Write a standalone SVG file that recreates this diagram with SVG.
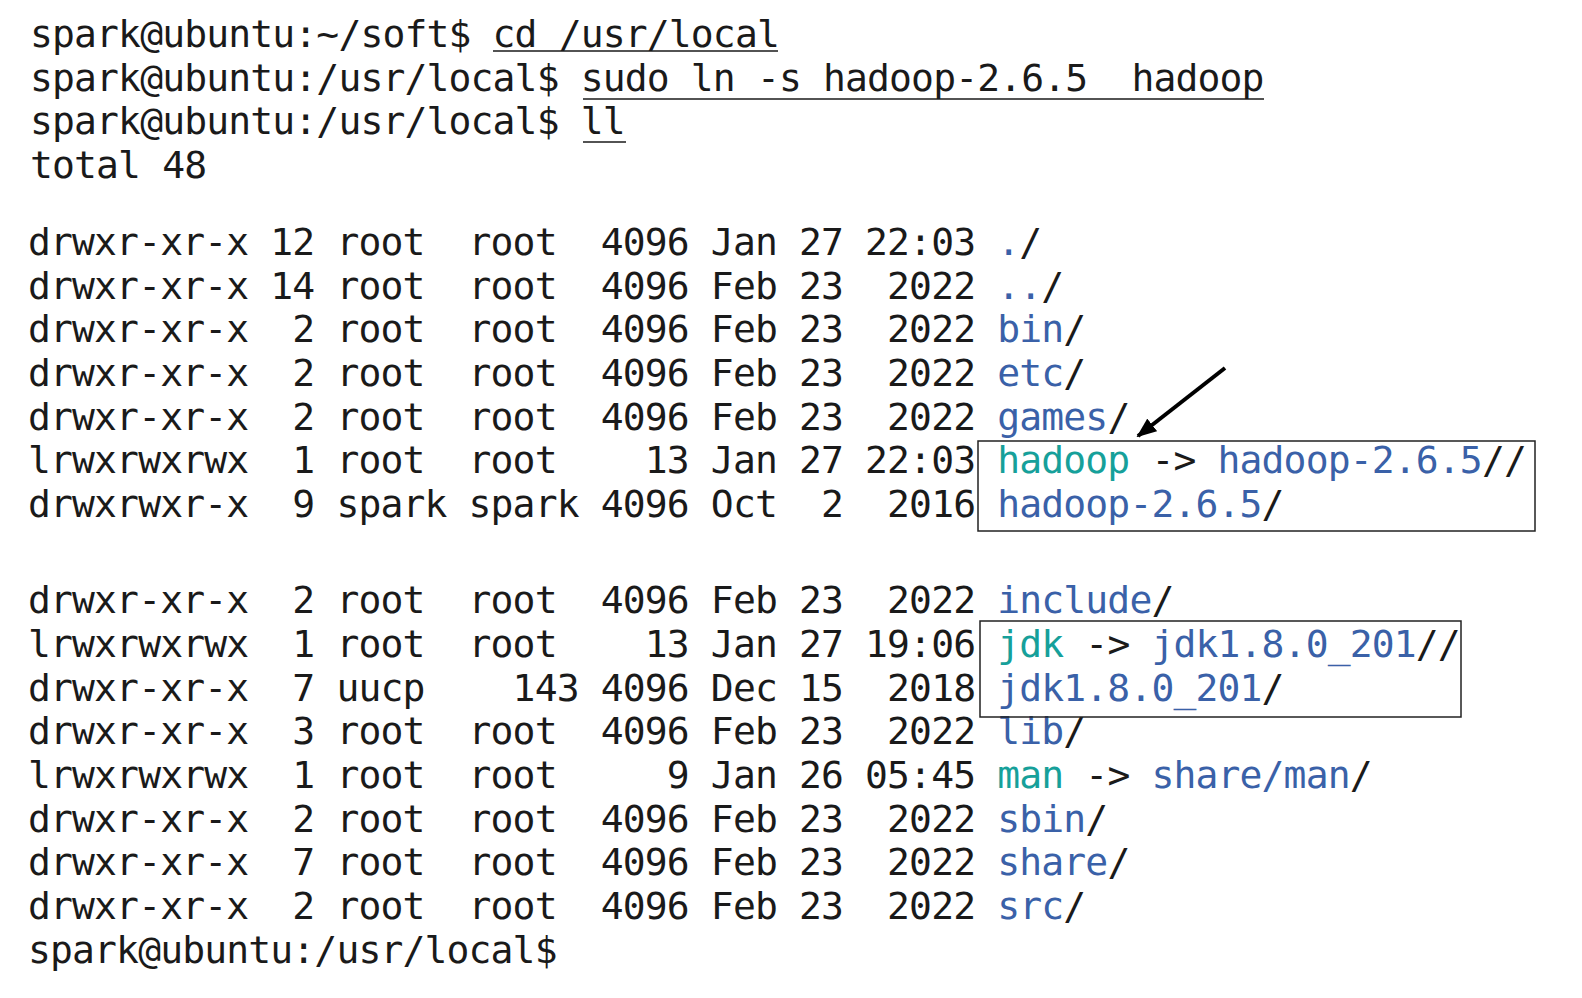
<svg xmlns="http://www.w3.org/2000/svg" width="1582" height="998" viewBox="0 0 1582 998">
<style>
text{font-family:"DejaVu Sans Mono","Liberation Mono",monospace;font-size:38px;letter-spacing:-0.85px;fill:#1a1a1a;white-space:pre}
.b{fill:#3a61a8}.t{fill:#16a09a}
.u{stroke:#1a1a1a;stroke-width:1.5}
.box{fill:none;stroke:#222;stroke-width:1.5}
</style>
<defs><marker id="ah" markerWidth="20" markerHeight="16" refX="18" refY="8" orient="auto" markerUnits="userSpaceOnUse" viewBox="0 0 20 16"><path d="M0,0L20,8L0,16z" fill="#000"/></marker></defs>
<rect width="1582" height="998" fill="#fff"/>
<g id="text" xml:space="preserve">
<text x="30" y="47">spark@ubuntu:~/soft$ cd /usr/local</text>
<text x="30" y="91">spark@ubuntu:/usr/local$ sudo ln -s hadoop-2.6.5  hadoop</text>
<text x="30" y="134">spark@ubuntu:/usr/local$ ll</text>
<text x="30" y="178">total 48</text>
<text x="28" y="255">drwxr-xr-x 12 root  root  4096 Jan 27 22:03 <tspan class="b">.</tspan>/</text>
<text x="28" y="299">drwxr-xr-x 14 root  root  4096 Feb 23  2022 <tspan class="b">..</tspan>/</text>
<text x="28" y="342">drwxr-xr-x  2 root  root  4096 Feb 23  2022 <tspan class="b">bin</tspan>/</text>
<text x="28" y="386">drwxr-xr-x  2 root  root  4096 Feb 23  2022 <tspan class="b">etc</tspan>/</text>
<text x="28" y="430">drwxr-xr-x  2 root  root  4096 Feb 23  2022 <tspan class="b">games</tspan>/</text>
<text x="28" y="473">lrwxrwxrwx  1 root  root    13 Jan 27 22:03 <tspan class="t">hadoop</tspan> -&gt; <tspan class="b">hadoop-2.6.5</tspan>//</text>
<text x="28" y="517">drwxrwxr-x  9 spark spark 4096 Oct  2  2016 <tspan class="b">hadoop-2.6.5</tspan>/</text>
<text x="28" y="613">drwxr-xr-x  2 root  root  4096 Feb 23  2022 <tspan class="b">include</tspan>/</text>
<text x="28" y="657">lrwxrwxrwx  1 root  root    13 Jan 27 19:06 <tspan class="t">jdk</tspan> -&gt; <tspan class="b">jdk1.8.0_201</tspan>//</text>
<text x="28" y="701">drwxr-xr-x  7 uucp    143 4096 Dec 15  2018 <tspan class="b">jdk1.8.0_201</tspan>/</text>
<text x="28" y="744">drwxr-xr-x  3 root  root  4096 Feb 23  2022 <tspan class="b">lib</tspan>/</text>
<text x="28" y="788">lrwxrwxrwx  1 root  root     9 Jan 26 05:45 <tspan class="t">man</tspan> -&gt; <tspan class="b">share/man</tspan>/</text>
<text x="28" y="832">drwxr-xr-x  2 root  root  4096 Feb 23  2022 <tspan class="b">sbin</tspan>/</text>
<text x="28" y="875">drwxr-xr-x  7 root  root  4096 Feb 23  2022 <tspan class="b">share</tspan>/</text>
<text x="28" y="919">drwxr-xr-x  2 root  root  4096 Feb 23  2022 <tspan class="b">src</tspan>/</text>
<text x="28" y="963">spark@ubuntu:/usr/local$</text>
</g>
<g id="boxes">
<rect class="box" x="978" y="441" width="557" height="90"/>
<rect class="box" x="980" y="621" width="481" height="96"/>
</g>
<g id="connectors">
<line class="u" x1="493" y1="51" x2="778" y2="51"/>
<line class="u" x1="583" y1="99" x2="1264" y2="99"/>
<line class="u" x1="583" y1="142" x2="626" y2="142"/>
<line x1="1225" y1="368" x2="1138" y2="436" stroke="#000" stroke-width="4" marker-end="url(#ah)"/>
</g>
</svg>
